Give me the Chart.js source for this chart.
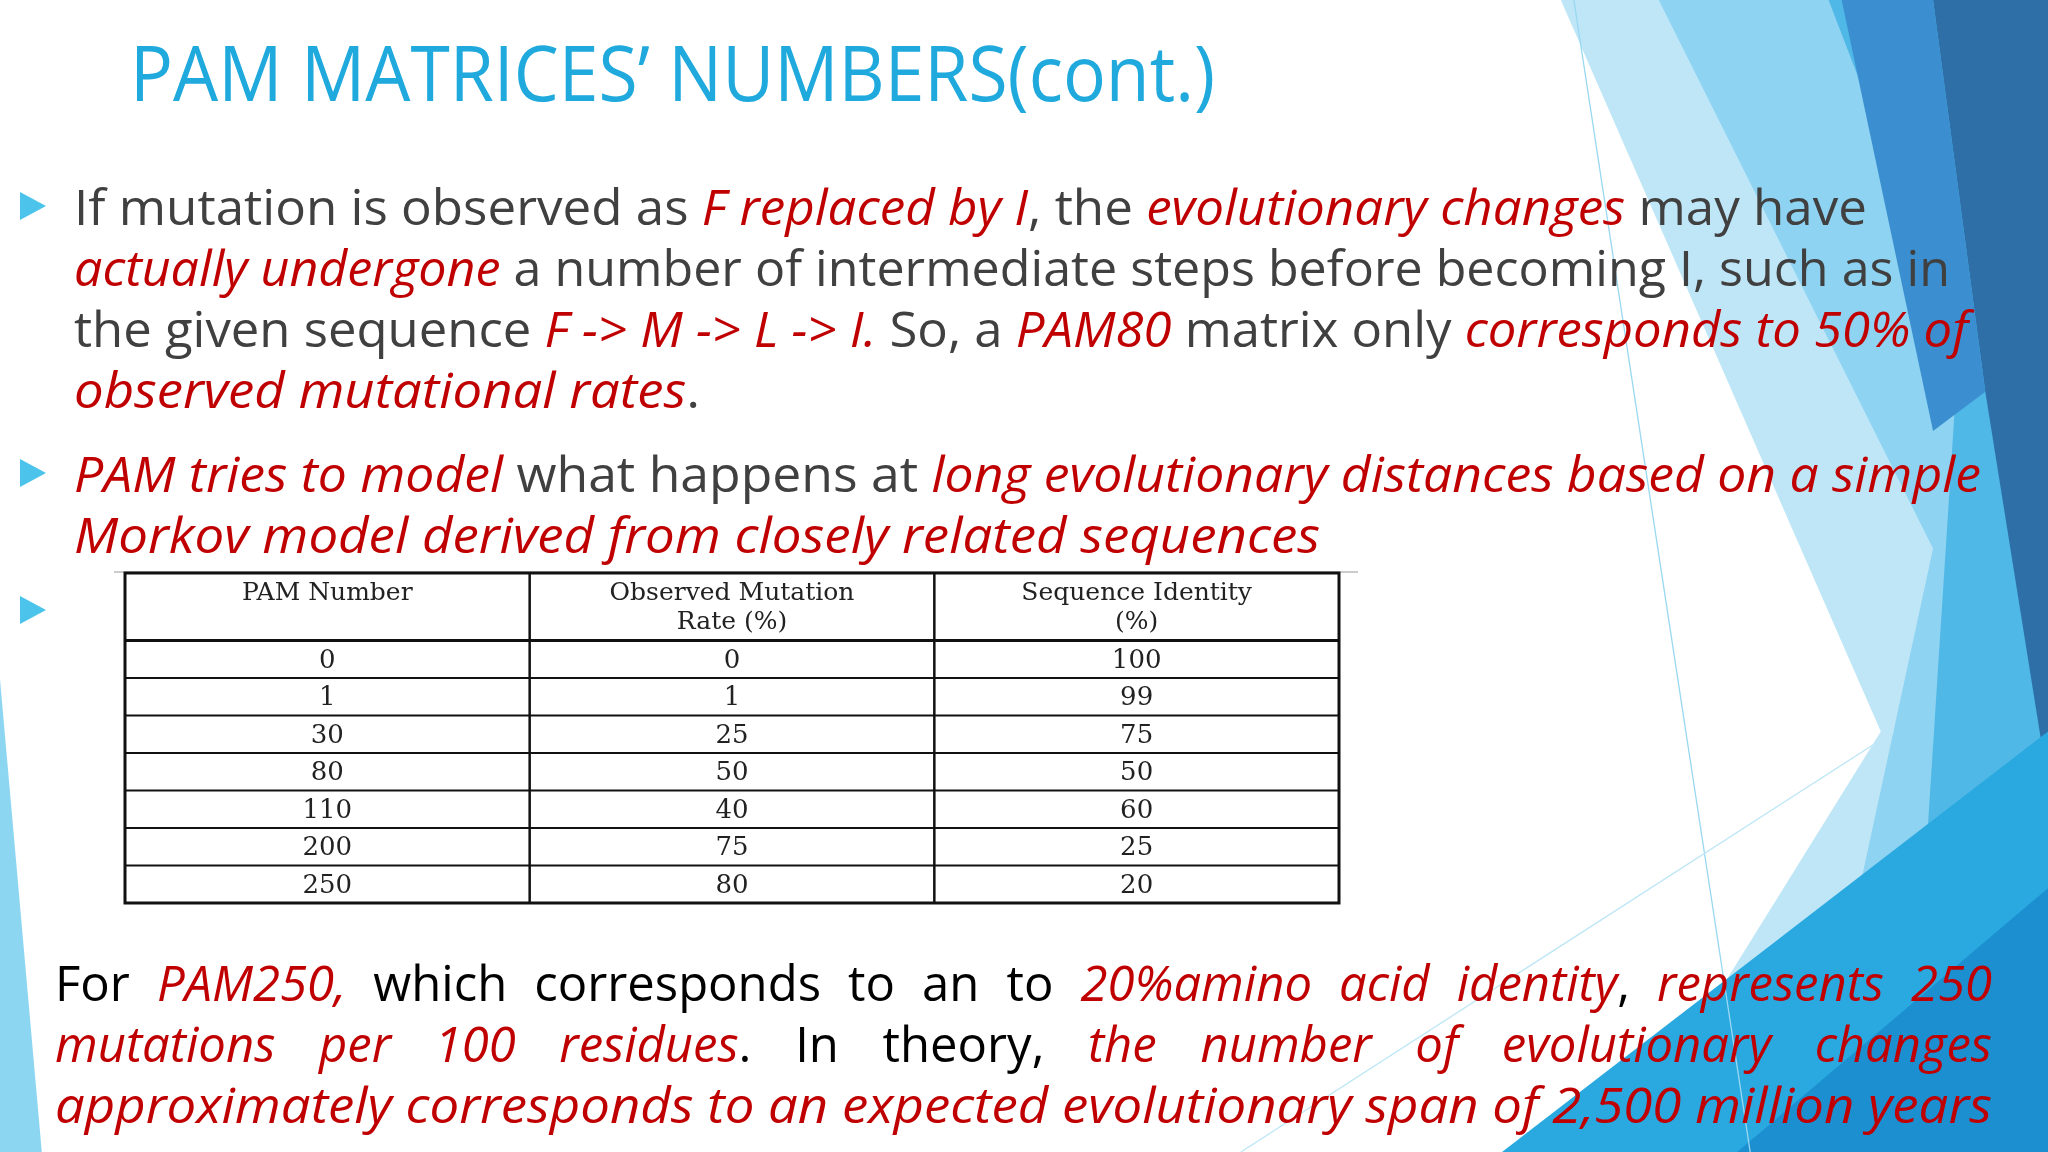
<!DOCTYPE html>
<html><head><meta charset="utf-8">
<script src="https://cdn.jsdelivr.net/npm/chart.js@4.4.1/dist/chart.umd.min.js"></script>
<style>
html,body{margin:0;padding:0;background:#fff;}
#slide{position:relative;width:2048px;height:1152px;overflow:hidden;background:#fff;font-family:"Open Sans","DejaVu Sans",sans-serif;}
#bg{position:absolute;left:0;top:0;}
.ln{position:absolute;white-space:nowrap;font-size:49px;color:#404040;transform-origin:0 50%;line-height:1;}
.r{color:#c00000;font-style:italic;}
.b{color:#000;}
.tri{position:absolute;width:0;height:0;border-top:14px solid transparent;border-bottom:14px solid transparent;border-left:26px solid #4cc3ea;}
#title{position:absolute;left:130px;top:20px;font-size:76px;color:#1fa9dc;white-space:nowrap;transform-origin:0 0;font-family:"Open Sans",sans-serif;}
#tbl{position:absolute;left:122px;top:570px;width:1220px;height:336px;}
</style></head><body>
<div id="slide">
<svg id="bg" width="2048" height="1152" viewBox="0 0 1568 882" preserveAspectRatio="none">
 <polygon points="1195,0 1568,0 1568,882 1240,882 1440,560" fill="#bfe6f7"/>
 <polygon points="1270,0 1568,0 1568,882 1380,882 1480,420" fill="#8ed3f1"/>
 <polygon points="1400,0 1568,0 1568,882 1460,882 1500,260" fill="#4fb8e6"/>
 <polygon points="1480,0 1568,0 1568,600 1520,300" fill="#2f6fa8"/>
 <polygon points="1410,0 1480,0 1520,300 1480,330" fill="#3b8fd0"/>
 <polygon points="1150,882 1568,560 1568,882" fill="#29a9e0"/>
 <polygon points="1330,882 1568,680 1568,882" fill="#1c8fd0"/>
 <polygon points="0,520 0,882 32,882" fill="#8dd6f2"/>
 <line x1="1205" y1="0" x2="1340" y2="882" stroke="#9ad8f2" stroke-width="1"/>
 <line x1="950" y1="882" x2="1450" y2="560" stroke="#bde6f6" stroke-width="1"/>
</svg>
<div id="title" data-w="1085">PAM MATRICES’ NUMBERS(cont.)</div>

<div class="tri" style="left:20px;top:192px"></div>
<div class="tri" style="left:20px;top:459px"></div>
<div class="tri" style="left:20px;top:596px"></div>

<div class="ln" data-w="1793" style="left:74px;top:182px">If mutation is observed as <span class="r">F replaced by I</span>, the <span class="r">evolutionary changes</span> may have</div>
<div class="ln" data-w="1876" style="left:74px;top:243px"><span class="r">actually undergone</span> a number of intermediate steps before becoming I, such as in</div>
<div class="ln" data-w="1894" style="left:74px;top:304px">the given sequence <span class="r">F -&gt; M -&gt; L -&gt; I.</span> So, a <span class="r">PAM80</span> matrix only <span class="r">corresponds to 50% of</span></div>
<div class="ln" data-w="626" style="left:74px;top:365px"><span class="r">observed mutational rates</span>.</div>
<div class="ln" data-w="1907" style="left:74px;top:449px"><span class="r">PAM tries to model</span> what happens at <span class="r">long evolutionary distances based on a simple</span></div>
<div class="ln" data-w="1246" style="left:74px;top:510px"><span class="r">Morkov model derived from closely related sequences</span></div>

<div style="position:absolute;left:114px;top:571px;width:1244px;height:2px;background:#ccc"></div>
<div id="tbl"><canvas id="c"></canvas></div>

<div class="ln b j" data-w="1937" style="left:55px;top:958px">For <span class="r">PAM250,</span> which corresponds to an to <span class="r">20%amino acid identity</span>, <span class="r">represents 250</span></div>
<div class="ln b j" data-w="1937" style="left:55px;top:1019px"><span class="r">mutations per 100 residues</span>. In theory, <span class="r">the number of evolutionary changes</span></div>
<div class="ln b" data-w="1937" style="left:55px;top:1080px"><span class="r">approximately corresponds to an expected evolutionary span of 2,500 million years</span></div>
</div>
<script>
const headers=[["PAM Number"],["Observed Mutation","Rate (%)"],["Sequence Identity","(%)"]];
const pamNumber=[0,1,30,80,110,200,250];
const mutationRate=[0,1,25,50,40,75,80];
const sequenceIdentity=[100,99,75,50,60,25,20];

document.querySelectorAll('[data-w]').forEach(el=>{
  const target=+el.dataset.w;
  if(el.classList.contains('j')){
    const words=el.textContent.trim().split(/\s+/).length-1;
    const w=el.getBoundingClientRect().width;
    el.style.wordSpacing=((target-w)/Math.max(words,1))+'px';
  } else {
    const w=el.getBoundingClientRect().width;
    el.style.transform='scaleX('+(target/w)+')';
  }
});

const H=1.8;
const rows=pamNumber.length;
const tablePlugin={id:'tbl',afterDraw(ch){
  const x=ch.scales.x,y=ch.scales.y,c=ch.ctx;
  const X=v=>x.getPixelForValue(v),Y=v=>y.getPixelForValue(v);
  c.save();c.strokeStyle='#111';
  c.lineWidth=3;c.strokeRect(X(0),Y(0),X(3)-X(0),Y(H+rows)-Y(0));
  c.lineWidth=2.5;
  for(let i=1;i<3;i++){c.beginPath();c.moveTo(X(i),Y(0));c.lineTo(X(i),Y(H+rows));c.stroke();}
  for(let r=0;r<rows;r++){c.beginPath();c.lineWidth=r==0?3:2;c.moveTo(X(0),Y(H+r));c.lineTo(X(3),Y(H+r));c.stroke();}
  c.fillStyle='#222';c.textAlign='center';c.textBaseline='middle';
  c.font='25px "DejaVu Serif", serif';
  headers.forEach((h,i)=>h.forEach((t,k)=>c.fillText(t,X(i+0.5),Y(0.55+k*0.78))));
  c.font='26px "DejaVu Serif", serif';
  const cols=[pamNumber,mutationRate,sequenceIdentity];
  cols.forEach((col,i)=>col.forEach((v,r)=>c.fillText(String(v),X(i+0.5),Y(H+r+0.55))));
  c.restore();
}};
new Chart(document.getElementById('c'),{
  type:'scatter',
  data:{datasets:[{data:[],pointRadius:0}]},
  options:{responsive:true,maintainAspectRatio:false,animation:false,events:[],
    layout:{padding:3},
    plugins:{legend:{display:false},tooltip:{enabled:false}},
    scales:{x:{type:'linear',min:0,max:3,display:false},
            y:{type:'linear',min:0,max:H+rows,reverse:true,display:false}}},
  plugins:[tablePlugin]
});
</script>
</body></html>
